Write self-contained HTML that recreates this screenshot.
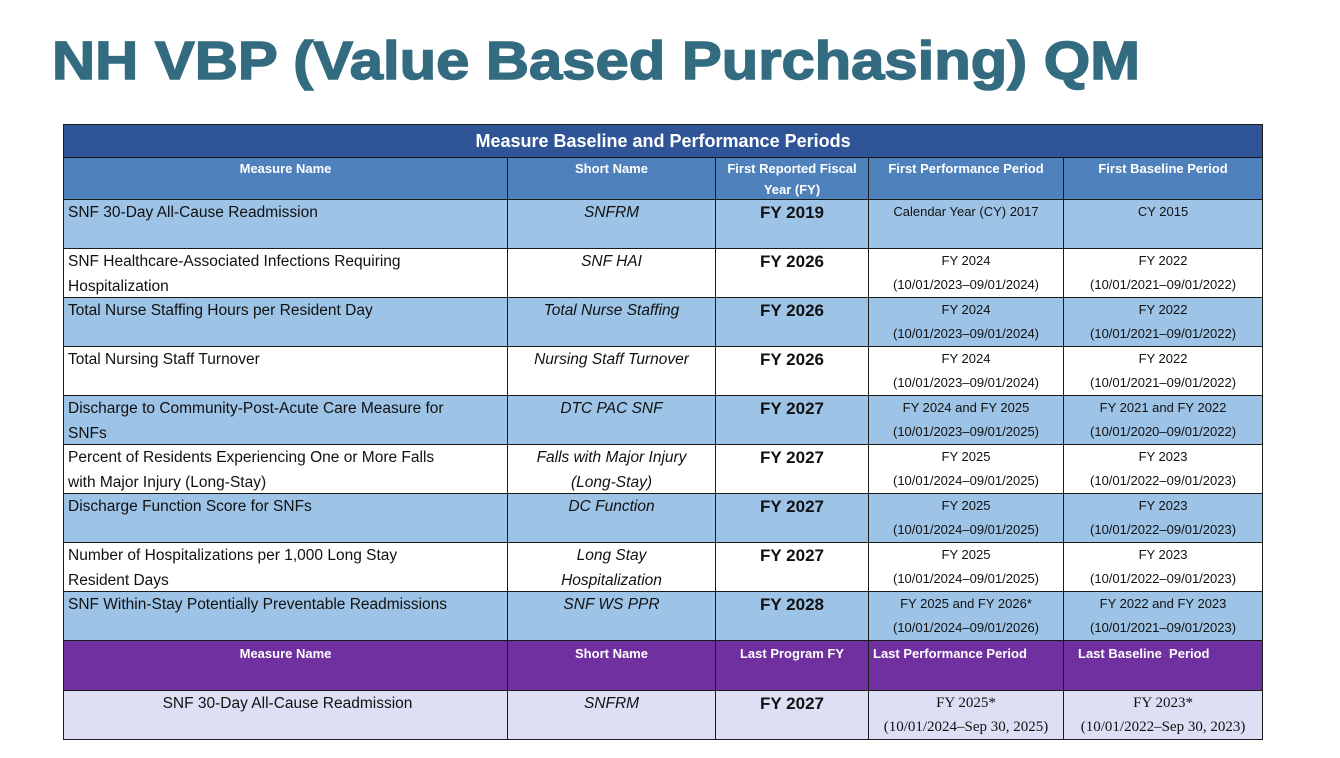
<!DOCTYPE html>
<html><head><meta charset="utf-8">
<style>
body{margin:0;width:1340px;height:758px;background:#fff;overflow:hidden;position:relative;font-family:"Liberation Sans",Arial,sans-serif;}
#title{position:absolute;left:52px;top:30px;font-size:54px;font-weight:bold;color:#336b80;white-space:nowrap;transform-origin:0 0;line-height:62px;-webkit-text-stroke:1.5px #336b80;}
table{position:absolute;left:63px;top:124px;border-collapse:collapse;table-layout:fixed;width:1199px;}
td{border:1px solid #1a1a1a;padding:0;vertical-align:top;font-size:15.5px;color:#111;overflow:hidden;white-space:nowrap;}
td>div{overflow:hidden;}
.cap td>div{height:32px;line-height:32px;}
.cap td{background:#2f5597;color:#fff;font-weight:bold;font-size:18px;text-align:center;}
.hd td{background:#4f81bd;color:#fff;font-weight:bold;font-size:13px;text-align:center;}
.hd td>div{height:41px;line-height:21px;}
.ph td{background:#7030a0;color:#fff;font-weight:bold;font-size:13px;}
.ph td>div{height:49px;line-height:26px;}
tr.b td{background:#9dc3e6;}
tr.w td{background:#fff;}
tr.l td{background:#dde0f5;}
.r td>div{height:48px;line-height:25px;}
.c1{padding-left:4px;}
.c2{text-align:center;font-style:italic;}
.c3{text-align:center;font-weight:bold;font-size:17px;}
.c4,.c5{text-align:center;font-size:13px;}
.c4>div,.c5>div{line-height:24px !important;}
.serif{font-family:"Liberation Serif",serif;font-size:15px !important;}
</style></head><body>
<div id="title">NH VBP (Value Based Purchasing) QM</div>
<table>
<colgroup><col style="width:444px"><col style="width:208px"><col style="width:153px"><col style="width:195px"><col style="width:199px"></colgroup>
<tr class="cap"><td colspan="5"><div>Measure Baseline and Performance Periods</div></td></tr>
<tr class="hd">
<td><div>Measure Name</div></td>
<td><div>Short Name</div></td>
<td><div>First Reported Fiscal<br>Year (FY)</div></td>
<td><div>First Performance Period</div></td>
<td><div>First Baseline Period</div></td></tr>
<tr class="r b"><td class="c1"><div>SNF 30-Day All-Cause Readmission</div></td><td class="c2"><div>SNFRM</div></td><td class="c3"><div>FY 2019</div></td><td class="c4"><div>Calendar Year (CY) 2017</div></td><td class="c5"><div>CY 2015</div></td></tr>
<tr class="r w"><td class="c1"><div>SNF Healthcare-Associated Infections Requiring<br>Hospitalization</div></td><td class="c2"><div>SNF HAI</div></td><td class="c3"><div>FY 2026</div></td><td class="c4"><div>FY 2024<br>(10/01/2023–09/01/2024)</div></td><td class="c5"><div>FY 2022<br>(10/01/2021–09/01/2022)</div></td></tr>
<tr class="r b"><td class="c1"><div>Total Nurse Staffing Hours per Resident Day</div></td><td class="c2"><div>Total Nurse Staffing</div></td><td class="c3"><div>FY 2026</div></td><td class="c4"><div>FY 2024<br>(10/01/2023–09/01/2024)</div></td><td class="c5"><div>FY 2022<br>(10/01/2021–09/01/2022)</div></td></tr>
<tr class="r w"><td class="c1"><div>Total Nursing Staff Turnover</div></td><td class="c2"><div>Nursing Staff Turnover</div></td><td class="c3"><div>FY 2026</div></td><td class="c4"><div>FY 2024<br>(10/01/2023–09/01/2024)</div></td><td class="c5"><div>FY 2022<br>(10/01/2021–09/01/2022)</div></td></tr>
<tr class="r b"><td class="c1"><div>Discharge to Community-Post-Acute Care Measure for<br>SNFs</div></td><td class="c2"><div>DTC PAC SNF</div></td><td class="c3"><div>FY 2027</div></td><td class="c4"><div>FY 2024 and FY 2025<br>(10/01/2023–09/01/2025)</div></td><td class="c5"><div>FY 2021 and FY 2022<br>(10/01/2020–09/01/2022)</div></td></tr>
<tr class="r w"><td class="c1"><div>Percent of Residents Experiencing One or More Falls<br>with Major Injury (Long-Stay)</div></td><td class="c2"><div>Falls with Major Injury<br>(Long-Stay)</div></td><td class="c3"><div>FY 2027</div></td><td class="c4"><div>FY 2025<br>(10/01/2024–09/01/2025)</div></td><td class="c5"><div>FY 2023<br>(10/01/2022–09/01/2023)</div></td></tr>
<tr class="r b"><td class="c1"><div>Discharge Function Score for SNFs</div></td><td class="c2"><div>DC Function</div></td><td class="c3"><div>FY 2027</div></td><td class="c4"><div>FY 2025<br>(10/01/2024–09/01/2025)</div></td><td class="c5"><div>FY 2023<br>(10/01/2022–09/01/2023)</div></td></tr>
<tr class="r w"><td class="c1"><div>Number of Hospitalizations per 1,000 Long Stay<br>Resident Days</div></td><td class="c2"><div>Long Stay<br>Hospitalization</div></td><td class="c3"><div>FY 2027</div></td><td class="c4"><div>FY 2025<br>(10/01/2024–09/01/2025)</div></td><td class="c5"><div>FY 2023<br>(10/01/2022–09/01/2023)</div></td></tr>
<tr class="r b"><td class="c1"><div>SNF Within-Stay Potentially Preventable Readmissions</div></td><td class="c2"><div>SNF WS PPR</div></td><td class="c3"><div>FY 2028</div></td><td class="c4"><div>FY 2025 and FY 2026*<br>(10/01/2024–09/01/2026)</div></td><td class="c5"><div>FY 2022 and FY 2023<br>(10/01/2021–09/01/2023)</div></td></tr>
<tr class="ph">
<td style="text-align:center"><div>Measure Name</div></td><td style="text-align:center"><div>Short Name</div></td><td style="text-align:center"><div>Last Program FY</div></td><td style="padding-left:4px"><div>Last Performance Period</div></td><td style="padding-left:14px"><div>Last Baseline&nbsp; Period</div></td></tr>
<tr class="r l"><td class="c1" style="text-align:center"><div>SNF 30-Day All-Cause Readmission</div></td><td class="c2"><div>SNFRM</div></td><td class="c3"><div>FY 2027</div></td><td class="c4 serif"><div>FY 2025*<br>(10/01/2024–Sep 30, 2025)</div></td><td class="c5 serif"><div>FY 2023*<br>(10/01/2022–Sep 30, 2023)</div></td></tr>
</table>
<script>
var t=document.getElementById('title');var w=t.getBoundingClientRect().width;t.style.transform='scaleX('+(1088/w)+')';
</script>
</body></html>
